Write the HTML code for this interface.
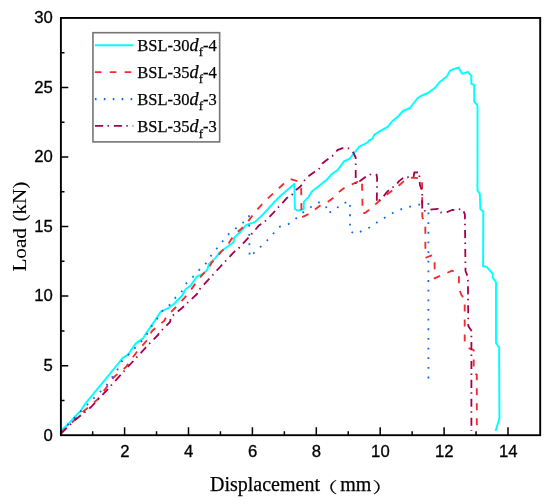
<!DOCTYPE html>
<html><head><meta charset="utf-8"><title>Load-Displacement</title>
<style>
html,body{margin:0;padding:0;background:#fff;}
body{width:550px;height:504px;overflow:hidden;}
svg{display:block;}
.ax{font-family:"Liberation Sans",sans-serif;font-size:16.7px;fill:#000;stroke:#000;stroke-width:0.3px;}
.ser{font-family:"Liberation Serif","Noto Serif CJK SC",serif;fill:#000;stroke:#000;stroke-width:0.25px;}
.curve{fill:none;stroke-width:2;stroke-linejoin:round;}
</style></head><body>
<svg width="550" height="504" viewBox="0 0 550 504">
<rect width="550" height="504" fill="#fff"/>
<g class="curve">
<polyline stroke="#00ffff" stroke-width="1.95" points="60.7,430.5 66.9,425.4 73.9,417.8 80.8,410.8 85,403.9 92,395.6 98.9,387.2 105.8,378.9 111.4,371.9 116.9,365 117.6,364.4 122.5,358.2 128.1,354.7 130.8,350.6 135.7,343.6 143.3,338.1 146.1,333.2 154.4,321.4 160.7,311.7 168.3,308.2 173.9,304 180,297.8 182.5,295 185.3,289.6 190.8,285.4 197.1,276.4 203.3,273.6 207.2,270.1 208.9,263.9 215.8,257.6 219.3,252.8 227.6,246.5 233.5,242.4 234.3,237.5 240,232.3 246.4,224.9 254.7,222.1 261.7,215.8 269.3,207.5 279.7,196.4 294.3,184 294.9,209 297.9,210.8 303.8,209 303.8,201.9 308.6,197.1 312.1,191.2 319.3,185.8 327.1,179.4 331.9,174 337.9,169.9 343.8,161.5 349.8,158.6 354.5,152.6 359.3,146.7 367.6,142.5 368.8,140.7 372.4,138.9 374.2,134.8 380,131.2 387.7,126.8 392.5,121 398.4,116.2 403,111 410,108 417.3,98.5 420.8,96 428,93 435,87.8 439.7,82 446.9,76.4 449.9,70.9 452.9,69.4 458.8,67.4 459.8,69.9 462.3,73.8 467.8,71.9 471.3,75.8 471.3,83.8 474.2,84.8 474.2,101.6 477.2,105 477.5,106 477.5,190.6 479.8,193.6 480.4,209 483.3,211.4 483.1,266.3 486.6,266.8 492.5,273.4 492.9,277.9 496,282.3 496,343 499.1,347.5 499.4,418.5 495.6,431"/>
<polyline stroke="#f52a2e" stroke-width="1.85" stroke-dasharray="7 8" points="61,433 84,411 98,399 114,377 126,367 136,353 148,339 152,331 164,321 167,316 176,307 188,294 193.6,286.1 197.1,281.3 203.3,273.6 207.5,270.8 211.7,262.5 215.1,259 221.4,251.4 225.6,247.9 231.1,239.6 234.6,234.7 245,225.6 255,212 265,201 277,190 284.2,183.3 289.5,179.4 290.5,179.2 296.5,180.8 301.2,187 301.5,217.4 309.2,213.8 313.9,210.2 321,204.9 327,202.5 334.2,197.1 338.5,192.2 346,186.7 352,184.3 361.4,180 362,180 362.6,213 365,213 372,207.4 384,196.7 398.3,186 406.7,178.8 412.6,177.6 422,178.4 422.3,217 425.3,224 425.4,254 426.3,257.5 431.8,255.4 434.6,257.5 434.6,278.3 452,270.7 458.9,273.8 458.9,288 461.4,295 464.7,299 464.7,343.5 468.3,348 473.7,350 473.7,372 476.8,375 476.8,431"/>
<polyline stroke="#0f6af0" stroke-width="1.8" stroke-dasharray="1.8 7.5" points="61,432 80,412 92,400 106,386 117,370.6 122,361 134,349 140,343 146,336 150,328 156,321 161,312 168,307 174,299 181,293 185.6,284 192,278 198,271 205,264.6 210,257 215.6,250 221.6,242.6 227.6,235 248,218.6 249,216 249.6,257 255,252 261,246.4 267,240.6 273,234 279,227 288,224.4 295,219.4 303,212.4 311,207 319,202.4 326,205.6 327,213 334.5,211 341,203.8 350,201.4 350,231.2 355.5,234 363.8,230 372,226.4 379.3,220.5 387.6,216.2 394.8,211.7 403,208.6 411.4,206.2 421,204.3 425,203.9"/>
<path stroke="#0f6af0" stroke-width="1.8" stroke-dasharray="1.8 7.85" d="M428.4,202.9 V380"/>
<polyline stroke="#a50050" stroke-width="1.8" stroke-dasharray="8.1 4.4 1.5 4.9" points="61,433.5 75,420 91,407 108,389 126,369 148,345 158,335 159,333 170,322 171,317 182,308 197,294 198,291 210,278 220,267 234,252 238,249 249,237 258.8,225.6 265,221.3 268.9,217.5 273.3,212.9 278.2,207.4 282,203.5 286.5,198.3 292,194.7 296,190 300.5,186.5 304.4,180.5 308.3,176.3 313.3,172.7 319.3,168.6 322.6,163.3 327.7,159.2 333.7,155 337.3,150.2 342.6,148.1 349.8,148.5 353.3,152.6 355.7,157.5 355.7,184.3 367,175.8 373,173.5 376.5,174.5 377.1,178 376.8,202.3 383.1,197.1 386.1,192.9 390,189 395.6,185.7 399,181.1 403.9,177.4 413.6,176.9 414.3,172.5 419.2,172.3 419.9,185 422.2,191 422.2,210.9 425.4,210.7 432.4,209.3 437.9,208.9 439.3,212.6 446.9,212.1 452,210 462.5,209 464.9,214.4 465.5,271 467.9,277 468.3,326 471.4,330.8 471.4,431"/>
</g>
<rect x="60.9" y="17.95" width="479.3" height="417.25" fill="none" stroke="#000" stroke-width="1.9"/>
<path d="M92.65,435.2 v-4.0 M124.60,435.2 v-8.0 M156.55,435.2 v-4.0 M188.50,435.2 v-8.0 M220.45,435.2 v-4.0 M252.40,435.2 v-8.0 M284.35,435.2 v-4.0 M316.30,435.2 v-8.0 M348.25,435.2 v-4.0 M380.20,435.2 v-8.0 M412.15,435.2 v-4.0 M444.10,435.2 v-8.0 M476.05,435.2 v-4.0 M508.00,435.2 v-8.0 M60.9,400.43 h3.6 M60.9,365.66 h7.4 M60.9,330.89 h3.6 M60.9,296.12 h7.4 M60.9,261.35 h3.6 M60.9,226.58 h7.4 M60.9,191.81 h3.6 M60.9,157.04 h7.4 M60.9,122.27 h3.6 M60.9,87.50 h7.4 M60.9,52.73 h3.6" stroke="#000" stroke-width="1.5" fill="none"/>
<g class="ax"><text x="52.9" y="440.5" text-anchor="end">0</text><text x="52.9" y="371.0" text-anchor="end">5</text><text x="52.9" y="301.4" text-anchor="end">10</text><text x="52.9" y="231.9" text-anchor="end">15</text><text x="52.9" y="162.3" text-anchor="end">20</text><text x="52.9" y="92.8" text-anchor="end">25</text><text x="52.9" y="23.3" text-anchor="end">30</text><text x="124.8" y="457.4" text-anchor="middle">2</text><text x="188.7" y="457.4" text-anchor="middle">4</text><text x="252.6" y="457.4" text-anchor="middle">6</text><text x="316.5" y="457.4" text-anchor="middle">8</text><text x="380.4" y="457.4" text-anchor="middle">10</text><text x="444.3" y="457.4" text-anchor="middle">12</text><text x="508.2" y="457.4" text-anchor="middle">14</text></g>
<rect x="92.95" y="32.7" width="126.7" height="109.2" fill="#fff" stroke="#757575" stroke-width="1.6"/>
<g fill="none" stroke-width="2">
<path d="M94.9,45.3 H133.1" stroke="#00ffff" stroke-width="2"/>
<path d="M94.9,72.1 H133.2" stroke="#f52a2e" stroke-width="1.9" stroke-dasharray="6.6 8.3"/>
<path d="M94.9,99.1 H133.2" stroke="#0f6af0" stroke-width="2.1" stroke-dasharray="1.6 7.33"/>
<path d="M94.95,125.9 H133.3" stroke="#a50050" stroke-width="1.8" stroke-dasharray="8.15 4.4 1.4 4.9"/>
</g>
<g class="ser" font-size="16.5"><text x="137.3" y="50.9">BSL-30<tspan font-style="italic" font-size="18.2">d</tspan><tspan font-size="13" dy="5.4">f</tspan><tspan dy="-5.4">-4</tspan></text><text x="137.3" y="78.0">BSL-35<tspan font-style="italic" font-size="18.2">d</tspan><tspan font-size="13" dy="5.4">f</tspan><tspan dy="-5.4">-4</tspan></text><text x="137.3" y="104.9">BSL-30<tspan font-style="italic" font-size="18.2">d</tspan><tspan font-size="13" dy="5.4">f</tspan><tspan dy="-5.4">-3</tspan></text><text x="137.3" y="132.2">BSL-35<tspan font-style="italic" font-size="18.2">d</tspan><tspan font-size="13" dy="5.4">f</tspan><tspan dy="-5.4">-3</tspan></text></g>
<text class="ser" font-size="20" x="210" y="491">Displacement</text>
<text class="ser" font-size="15" transform="translate(317.2,492.7) scale(1.35,1)">（</text>
<text class="ser" font-size="20" x="340.2" y="491">mm</text>
<text class="ser" font-size="15" transform="translate(372.6,492.7) scale(1.35,1)">）</text>
<text class="ser" font-size="19" word-spacing="1" style="stroke-width:0.08px" transform="translate(25.5,271.6) rotate(-90) scale(1.117,1)">Load (kN)</text>
</svg>
</body></html>
